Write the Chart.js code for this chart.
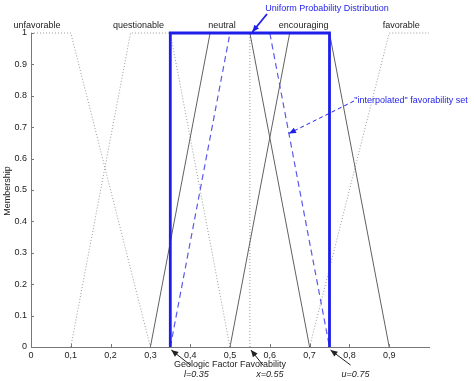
<!DOCTYPE html>
<html>
<head>
<meta charset="utf-8">
<script src="https://cdn.jsdelivr.net/npm/chart.js@4.4.1/dist/chart.umd.min.js"></script>
<style>
  html, body { margin: 0; padding: 0; background: #fff; }
  #wrap { width: 474px; height: 381px; position: relative; }
</style>
</head>
<body>
<div id="wrap"><canvas id="chart"></canvas></div>
<script>
// membership functions (x = favorability, y = membership)
const unfavX = [0, 0.1, 0.3];
const unfavY = [1, 1, 0];
const questX = [0.1, 0.25, 0.35, 0.5];
const questY = [0, 1, 1, 0];
const neutralX = [0.3, 0.45, 0.55, 0.7];
const neutralY = [0, 1, 1, 0];
const encX = [0.5, 0.65, 0.75, 0.9];
const encY = [0, 1, 1, 0];
const favX = [0.7, 0.9, 1];
const favY = [0, 1, 1];
const markX = [0.55, 0.55];
const markY = [0, 1];
const uniformX = [0.35, 0.35, 0.75, 0.75];
const uniformY = [0, 1, 1, 0];
const interpX = [0.35, 0.5, 0.6, 0.75];
const interpY = [0, 1, 1, 0];

const xTicks = [0, 0.1, 0.2, 0.3, 0.4, 0.5, 0.6, 0.7, 0.8, 0.9];
const xTickLabels = ['0', '0,1', '0,2', '0,3', '0,4', '0,5', '0,6', '0,7', '0,8', '0,9'];
const yTicks = [0, 0.1, 0.2, 0.3, 0.4, 0.5, 0.6, 0.7, 0.8, 0.9, 1];
const yTickLabels = ['0', '0.1', '0.2', '0.3', '0.4', '0.5', '0.6', '0.7', '0.8', '0.9', '1'];

const setLabels = ['unfavorable', 'questionable', 'neutral', 'encouraging', 'favorable'];
const setLabelX = [0.015, 0.27, 0.48, 0.685, 0.93];

const pts = (xs, ys) => xs.map((x, i) => ({ x: x, y: ys[i] }));

const FONT = "'Liberation Sans', Arial, sans-serif";
const BLUE = 'rgb(30,30,235)';

function arrow(ctx, x1, y1, x2, y2, color, width, dash) {
    ctx.save();
    ctx.strokeStyle = color;
    ctx.fillStyle = color;
    ctx.lineWidth = width;
    ctx.setLineDash(dash || []);
    ctx.beginPath();
    ctx.moveTo(x1, y1);
    ctx.lineTo(x2, y2);
    ctx.stroke();
    ctx.setLineDash([]);
    const a = Math.atan2(y2 - y1, x2 - x1);
    const L = 7, W = 3;
    ctx.beginPath();
    ctx.moveTo(x2, y2);
    ctx.lineTo(x2 - L * Math.cos(a) + W * Math.sin(a), y2 - L * Math.sin(a) - W * Math.cos(a));
    ctx.lineTo(x2 - L * Math.cos(a) - W * Math.sin(a), y2 - L * Math.sin(a) + W * Math.cos(a));
    ctx.closePath();
    ctx.fill();
    ctx.restore();
}

const decor = {
    id: 'decor',
    afterDraw(chart) {
        const ctx = chart.ctx;
        const xs = chart.scales.x, ys = chart.scales.y;
        const x0 = xs.getPixelForValue(0), y0 = ys.getPixelForValue(0);
        ctx.save();
        // inward tick marks
        ctx.strokeStyle = '#777';
        ctx.lineWidth = 1;
        ctx.beginPath();
        xTicks.forEach(v => {
            const px = Math.round(xs.getPixelForValue(v)) + 0.5;
            ctx.moveTo(px, y0);
            ctx.lineTo(px, y0 - 3);
        });
        yTicks.forEach(v => {
            const py = Math.round(ys.getPixelForValue(v)) + 0.5;
            ctx.moveTo(x0, py);
            ctx.lineTo(x0 + 3, py);
        });
        ctx.stroke();

        // set names
        ctx.font = '9px ' + FONT;
        ctx.fillStyle = '#222';
        ctx.textAlign = 'center';
        ctx.textBaseline = 'middle';
        setLabels.forEach((t, i) => ctx.fillText(t, xs.getPixelForValue(setLabelX[i]), 26));

        // axis titles
        ctx.fillText('Geologic Factor Favorability', xs.getPixelForValue(0.5), 365);
        ctx.save();
        ctx.translate(8, 191);
        ctx.rotate(-Math.PI / 2);
        ctx.fillText('Membership', 0, 0);
        ctx.restore();

        // bottom value markers
        ctx.font = 'italic 9px ' + FONT;
        const marks = [[0.35, 'l=0.35', 20, 26], [0.55, 'x=0.55', 13, 20], [0.75, 'u=0.75', 21, 26]];
        marks.forEach(m => {
            const px = xs.getPixelForValue(m[0]);
            arrow(ctx, px + m[2], y0 + 18, px + 1, y0 + 3, '#222', 1);
            ctx.fillStyle = '#222';
            ctx.fillText(m[1], px + m[3], 374);
        });

        // blue annotations
        ctx.font = '9px ' + FONT;
        ctx.fillStyle = BLUE;
        ctx.fillText('Uniform Probability Distribution', 327, 9);
        arrow(ctx, 267, 14, xs.getPixelForValue(0.556), ys.getPixelForValue(1) - 1, BLUE, 1.8);
        ctx.fillStyle = BLUE;
        ctx.fillText('"interpolated" favorability set', 411, 101);
        arrow(ctx, 354, 101, xs.getPixelForValue(0.648), ys.getPixelForValue(0.68), BLUE, 1, [4, 3]);
        ctx.restore();
    }
};

const dotted = { borderColor: '#9a9a9a', borderWidth: 1, borderDash: [1, 2] };
const solid = { borderColor: '#606060', borderWidth: 1 };

const mk = (label, xs, ys, style, order) => Object.assign({
    label: label,
    data: pts(xs, ys),
    pointRadius: 0,
    tension: 0,
    fill: false,
    clip: false,
    order: order
}, style);

new Chart(document.getElementById('chart'), {
    type: 'line',
    data: {
        datasets: [
            mk('unfavorable', unfavX, unfavY, dotted, 5),
            mk('questionable', questX, questY, dotted, 5),
            mk('favorable', favX, favY, dotted, 5),
            mk('x', markX, markY, dotted, 5),
            mk('neutral', neutralX, neutralY, solid, 4),
            mk('encouraging', encX, encY, solid, 4),
            mk('interpolated', interpX, interpY, { borderColor: 'rgb(90,90,235)', borderWidth: 1.2, borderDash: [6, 4] }, 2),
            mk('uniform', uniformX, uniformY, { borderColor: BLUE, borderWidth: 2.8 }, 1)
        ]
    },
    options: {
        responsive: true,
        maintainAspectRatio: false,
        animation: false,
        layout: { padding: { top: 33, right: 45, left: 0, bottom: 0 } },
        plugins: { legend: { display: false }, tooltip: { enabled: false } },
        scales: {
            x: {
                type: 'linear',
                min: 0,
                max: 1,
                afterFit: s => { s.height = 34; },
                afterBuildTicks: s => { s.ticks = xTicks.map(v => ({ value: v })); },
                grid: { display: false, drawTicks: false },
                border: { display: true, color: '#777', width: 1 },
                ticks: {
                    padding: 3,
                    color: '#222',
                    font: { size: 9, family: FONT },
                    maxRotation: 0,
                    autoSkip: false,
                    callback: (v, i) => xTickLabels[i]
                }
            },
            y: {
                type: 'linear',
                min: 0,
                max: 1,
                afterFit: s => { s.width = 31; },
                afterBuildTicks: s => { s.ticks = yTicks.map(v => ({ value: v })); },
                grid: { display: false, drawTicks: false },
                border: { display: true, color: '#777', width: 1 },
                ticks: {
                    padding: 4,
                    color: '#222',
                    font: { size: 9, family: FONT },
                    autoSkip: false,
                    callback: (v, i) => yTickLabels[i]
                }
            }
        }
    },
    plugins: [decor]
});
</script>
</body>
</html>
